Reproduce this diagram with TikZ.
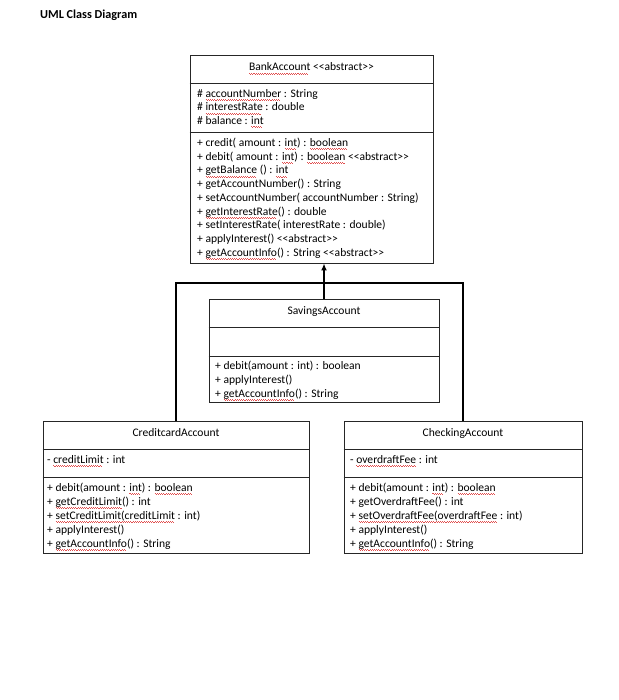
\documentclass[tikz,border=0pt]{standalone}
\usepackage{fontspec}
\usetikzlibrary{arrows.meta}
\newfontfamily\calib{Carlito}
\definecolor{sq}{RGB}{225,80,80}
\newsavebox\sqbox
\newcommand\sqw[1]{\sbox\sqbox{#1}\rlap{\color{sq}\leaders\hbox{\rule[-2.4pt]{1.1pt}{0.55pt}\rule[-3.1pt]{1.1pt}{0.55pt}}\hskip\wd\sqbox}\usebox\sqbox}
\begin{document}
\begin{tikzpicture}[x=1pt,y=-1pt,
  box/.style={draw=black!85, line width=0.9pt, inner sep=0, minimum width=#1},
  txt/.style={font=\calib\fontsize{11.55}{13.6}\selectfont, inner sep=0, anchor=base west, text=black},
  ttl/.style={txt, anchor=base},
  sep/.style={draw=black!85, line width=0.9pt},
  conn/.style={draw=black, line width=2.3pt},
  heading/.style={font=\calib\bfseries\fontsize{12.2}{14}\selectfont, inner sep=0, anchor=base west}]
\useasboundingbox (0,0) rectangle (618,700);
\fill[white] (0,0) rectangle (618,700);

\node[heading] (head) at (40,18.5) {UML Class Diagram};

% BankAccount
\node[box=243pt, minimum height=208pt] (bank) at (311.5,159) {};
\draw[sep] (bank.west |- 0,83) -- (bank.east |- 0,83);
\draw[sep] (bank.west |- 0,132) -- (bank.east |- 0,132);
\node[ttl] (bankt) at (311.5,71) {\sqw{BankAccount} <<abstract>>};
\node[txt] (ba1) at (197,97.5) {\# \sqw{accountNumber} : String};
\node[txt] (ba2) at (197,111) {\# \sqw{interestRate} : double};
\node[txt] (ba3) at (197,124.5) {\# balance : \sqw{int}};
\node[txt] (bm1) at (197,146.5) {+ credit( amount : \sqw{int}) : \sqw{boolean}};
\node[txt] (bm2) at (197,160.25) {+ debit( amount : \sqw{int}) : \sqw{boolean} <<abstract>>};
\node[txt] (bm3) at (197,174) {+ \sqw{getBalance} () : \sqw{int}};
\node[txt] (bm4) at (197,187.75) {+ getAccountNumber() : String};
\node[txt] (bm5) at (197,201.5) {+ setAccountNumber( accountNumber : String)};
\node[txt] (bm6) at (197,215.25) {+ \sqw{getInterestRate}() : double};
\node[txt] (bm7) at (197,229) {+ setInterestRate( interestRate : double)};
\node[txt] (bm8) at (197,242.75) {+ applyInterest() <<abstract>>};
\node[txt] (bm9) at (197,256.5) {+ \sqw{getAccountInfo}() : String <<abstract>>};

% SavingsAccount
\node[box=230pt, minimum height=103pt] (sav) at (324,350.5) {};
\draw[sep] (sav.west |- 0,327) -- (sav.east |- 0,327);
\draw[sep] (sav.west |- 0,356) -- (sav.east |- 0,356);
\node[ttl] (savt) at (324,314.5) {SavingsAccount};
\node[txt] (sm1) at (215,369.5) {+ debit(amount : int) : boolean};
\node[txt] (sm2) at (215,383.5) {+ applyInterest()};
\node[txt] (sm3) at (215,397.5) {+ \sqw{getAccountInfo}() : String};

% CreditcardAccount
\node[box=266pt, minimum height=132pt] (cc) at (176,487) {};
\draw[sep] (cc.west |- 0,449) -- (cc.east |- 0,449);
\draw[sep] (cc.west |- 0,477) -- (cc.east |- 0,477);
\node[ttl] (cct) at (176,436) {CreditcardAccount};
\node[txt] (ca1) at (47,463.5) {- \sqw{creditLimit} : int};
\node[txt] (cm1) at (47,491.5) {+ debit(amount : \sqw{int}) : \sqw{boolean}};
\node[txt] (cm2) at (47,505.5) {+ \sqw{getCreditLimit}() : int};
\node[txt] (cm3) at (47,519.5) {+ \sqw{setCreditLimit(creditLimit} : int)};
\node[txt] (cm4) at (47,533.5) {+ applyInterest()};
\node[txt] (cm5) at (47,547.5) {+ \sqw{getAccountInfo}() : String};

% CheckingAccount
\node[box=238pt, minimum height=132pt] (chk) at (463,487) {};
\draw[sep] (chk.west |- 0,449) -- (chk.east |- 0,449);
\draw[sep] (chk.west |- 0,477) -- (chk.east |- 0,477);
\node[ttl] (chkt) at (463,436) {CheckingAccount};
\node[txt] (ka1) at (350,463.5) {- \sqw{overdraftFee} : int};
\node[txt] (km1) at (350,491.5) {+ debit(amount : \sqw{int}) : \sqw{boolean}};
\node[txt] (km2) at (350,505.5) {+ getOverdraftFee() : int};
\node[txt] (km3) at (350,519.5) {+ \sqw{setOverdraftFee(overdraftFee} : int)};
\node[txt] (km4) at (350,533.5) {+ applyInterest()};
\node[txt] (km5) at (350,547.5) {+ \sqw{getAccountInfo}() : String};

% inheritance connectors
\coordinate (bar) at (0,283);
\draw[conn, -{Latex[length=7pt,width=6pt]}] (sav.north) -- (sav.north |- bank.south);
\draw[conn, line join=miter] (cc.north) -- (cc.north |- bar) -- (chk.north |- bar) -- (chk.north);
\end{tikzpicture}
\end{document}
